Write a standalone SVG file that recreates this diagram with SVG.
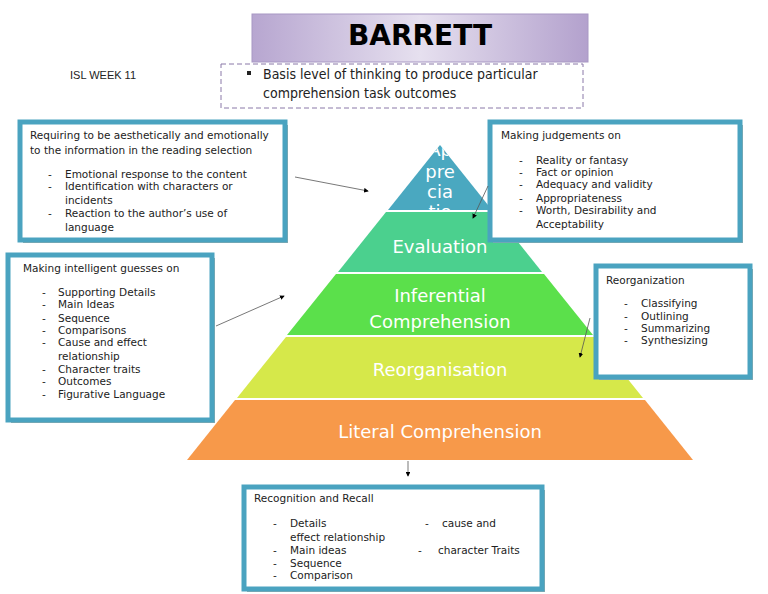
<svg xmlns="http://www.w3.org/2000/svg" width="768" height="594" viewBox="0 0 768 594">
<defs>
<linearGradient id="tg" x1="0" y1="0" x2="1" y2="0"><stop offset="0" stop-color="#b7a6d0"/><stop offset="0.5" stop-color="#e6e0ef"/><stop offset="1" stop-color="#b3a1cd"/></linearGradient>
<marker id="ah" markerWidth="6" markerHeight="6" refX="5" refY="3" orient="auto"><path d="M0,0 L6,3 L0,6 z" fill="#000"/></marker>
<clipPath id="apc"><polygon points="440,145 492,210 388,210"/></clipPath>
</defs>
<style>
text{font-family:"DejaVu Sans",sans-serif;fill:#222}
.t{font-size:10.5px}
.box{fill:#fff;stroke:#4aa3c0;stroke-width:5}
.sh{fill:#9aa}
.lv{fill:#fff;font-size:18px;text-anchor:middle}
.c{stroke:#555;stroke-width:0.8;fill:none;marker-end:url(#ah)}
</style>
<g id="title"><rect x="252" y="14" width="336" height="48" fill="url(#tg)" stroke="#a898c4"/><text x="420" y="45" font-size="28" font-weight="bold" text-anchor="middle" style="fill:#000">BARRETT</text></g>
<g id="week"><text x="70" y="79" font-size="11" style="font-family:'Liberation Sans',sans-serif">ISL WEEK 11</text></g>
<g id="basis"><rect x="221" y="64" width="362" height="44" fill="#fff" stroke="#8a78a8" stroke-dasharray="5,3"/><rect x="247" y="71" width="4" height="4" fill="#222"/><text x="263" y="79" font-size="14" style="font-family:'DejaVu Sans Condensed','DejaVu Sans',sans-serif">Basis level of thinking to produce particular</text><text x="263" y="98" font-size="14" style="font-family:'DejaVu Sans Condensed','DejaVu Sans',sans-serif">comprehension task outcomes</text></g>
<g id="pyramid">
<polygon points="440,145 492,210 388,210" fill="#4aa8c0"/>
<g clip-path="url(#apc)"><text x="440" y="156" class="lv" font-size="17">Ap</text><text x="440" y="178" class="lv" font-size="17">pre</text><text x="440" y="198" class="lv" font-size="17">cia</text><text x="440" y="218" class="lv" font-size="17">tio</text></g>
<polygon points="386,212 494,212 542,272 338,272" fill="#4bd08e"/><text x="440" y="253" class="lv">Evaluation</text>
<polygon points="336,274 544,274 593,335 287,335" fill="#5be04b"/><text x="440" y="302" class="lv">Inferential</text><text x="440" y="328" class="lv">Comprehension</text>
<polygon points="286,337 594,337 643,398 237,398" fill="#d6e84a"/><text x="440" y="376" class="lv">Reorganisation</text>
<polygon points="235,400 645,400 693,460 187,460" fill="#f7994a"/><text x="440" y="438" class="lv">Literal Comprehension</text>
</g>
<g id="box-appreciation"><rect x="23" y="125" width="265" height="118" class="sh"/><rect x="20" y="122" width="265" height="118" class="box"/>
<text class="t" x="30" y="139">Requiring to be aesthetically and emotionally</text><text class="t" x="30" y="154">to the information in the reading selection</text>
<text class="t" x="48" y="178">-</text><text class="t" x="65" y="178">Emotional response to the content</text>
<text class="t" x="48" y="190">-</text><text class="t" x="65" y="190">Identification with characters or</text><text class="t" x="65" y="204">incidents</text>
<text class="t" x="48" y="217">-</text><text class="t" x="65" y="217">Reaction to the author’s use of</text><text class="t" x="65" y="231">language</text></g>
<g id="box-evaluation"><rect x="493" y="125" width="250" height="118" class="sh"/><rect x="490" y="122" width="250" height="118" class="box"/>
<text class="t" x="501" y="139">Making judgements on</text>
<text class="t" x="519" y="164">-</text><text class="t" x="536" y="164">Reality or fantasy</text>
<text class="t" x="519" y="176">-</text><text class="t" x="536" y="176">Fact or opinion</text>
<text class="t" x="519" y="188">-</text><text class="t" x="536" y="188">Adequacy and validity</text>
<text class="t" x="519" y="202">-</text><text class="t" x="536" y="202">Appropriateness</text>
<text class="t" x="519" y="214">-</text><text class="t" x="536" y="214">Worth, Desirability and</text><text class="t" x="536" y="228">Acceptability</text></g>
<g id="box-inferential"><rect x="11" y="258" width="204" height="165" class="sh"/><rect x="8" y="255" width="204" height="165" class="box"/>
<text class="t" x="23" y="272">Making intelligent guesses on</text>
<text class="t" x="42" y="296">-</text><text class="t" x="58" y="296">Supporting Details</text>
<text class="t" x="42" y="308">-</text><text class="t" x="58" y="308">Main Ideas</text>
<text class="t" x="42" y="322">-</text><text class="t" x="58" y="322">Sequence</text>
<text class="t" x="42" y="334">-</text><text class="t" x="58" y="334">Comparisons</text>
<text class="t" x="42" y="346">-</text><text class="t" x="58" y="346">Cause and effect</text><text class="t" x="58" y="360">relationship</text>
<text class="t" x="42" y="373">-</text><text class="t" x="58" y="373">Character traits</text>
<text class="t" x="42" y="385">-</text><text class="t" x="58" y="385">Outcomes</text>
<text class="t" x="42" y="398">-</text><text class="t" x="58" y="398">Figurative Language</text></g>
<g id="box-reorganisation"><rect x="599" y="269" width="154" height="111" class="sh"/><rect x="596" y="266" width="154" height="111" class="box"/>
<text class="t" x="606" y="284">Reorganization</text>
<text class="t" x="624" y="307">-</text><text class="t" x="641" y="307">Classifying</text>
<text class="t" x="624" y="320">-</text><text class="t" x="641" y="320">Outlining</text>
<text class="t" x="624" y="332">-</text><text class="t" x="641" y="332">Summarizing</text>
<text class="t" x="624" y="344">-</text><text class="t" x="641" y="344">Synthesizing</text></g>
<g id="box-literal"><rect x="247" y="490" width="298" height="102" class="sh"/><rect x="244" y="487" width="298" height="102" class="box"/>
<text class="t" x="254" y="502">Recognition and Recall</text>
<text class="t" x="273" y="527">-</text><text class="t" x="290" y="527">Details</text><text class="t" x="290" y="541">effect relationship</text>
<text class="t" x="273" y="554">-</text><text class="t" x="290" y="554">Main ideas</text>
<text class="t" x="273" y="567">-</text><text class="t" x="290" y="567">Sequence</text>
<text class="t" x="273" y="579">-</text><text class="t" x="290" y="579">Comparison</text>
<text class="t" x="425" y="527">-</text><text class="t" x="442" y="527">cause and</text>
<text class="t" x="418" y="554">-</text><text class="t" x="438" y="554">character Traits</text></g>
<g id="connectors">
<line x1="295" y1="177" x2="368" y2="191" class="c"/>
<line x1="488" y1="186" x2="473" y2="218" class="c"/>
<line x1="216" y1="326" x2="284" y2="296" class="c"/>
<line x1="590" y1="318" x2="580" y2="357" class="c"/>
<line x1="408" y1="461" x2="408" y2="476" class="c"/>
</g>
</svg>
